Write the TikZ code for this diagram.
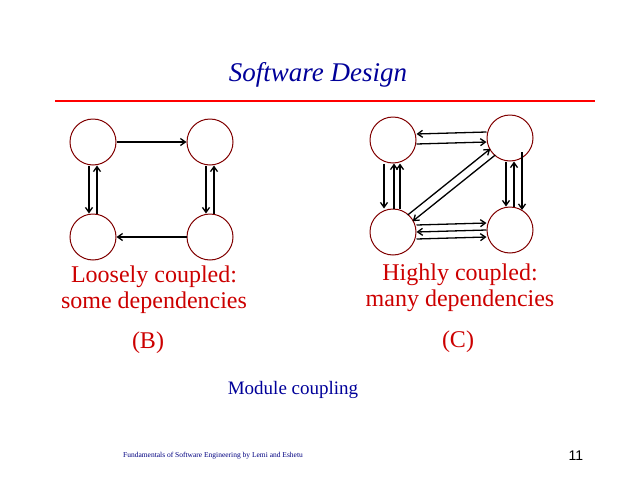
\documentclass[tikz,border=0pt]{standalone}
\usepackage{fontspec}
\usetikzlibrary{arrows.meta}
\setmainfont{Liberation Serif}
\newfontfamily\sansf{Liberation Sans}
\begin{document}
\begin{tikzpicture}[x=1pt,y=-1pt,
  mod/.style={circle,draw=red!50!black,line width=1pt,minimum size=46pt,inner sep=0pt},
  ar/.style={-{Straight Barb[length=5pt,width=7pt]},line width=1.3pt},
  redtxt/.style={text=red!80!black,font=\fontsize{24}{26}\selectfont}]
\useasboundingbox (0,0) rectangle (638,493);
\node[font=\itshape\fontsize{27}{30}\selectfont,text=blue!60!black] (title) at (318,75) {Software Design};
\draw[red,line width=2.5pt] (55,101) coordinate (l1) -- (595,101) coordinate (l2);
% B
\node[mod] (a) at (93,142) {};
\node[mod] (b) at (210,142) {};
\node[mod] (c) at (93,237) {};
\node[mod] (d) at (210,237) {};
\draw[ar] (a) -- (b);
\draw[ar] (d) -- (c);
\draw[ar] ([xshift=-4pt]a.south) -- ([xshift=-4pt]c.north);
\draw[ar] ([xshift=4pt]c.north) -- ([xshift=4pt]a.south);
\draw[ar] ([xshift=-4pt]b.south) -- ([xshift=-4pt]d.north);
\draw[ar] ([xshift=4pt]d.north) -- ([xshift=4pt]b.south);
% C
\node[mod] (e) at (393,140) {};
\node[mod] (f) at (510,138) {};
\node[mod] (g) at (393,232) {};
\node[mod] (h) at (510,230) {};
\draw[ar] ([yshift=6pt]f.west) -- ([yshift=6pt]e.east);
\draw[ar] ([yshift=-4pt]e.east) -- ([yshift=-4pt]f.west);
\draw[ar] ([xshift=-9pt]e.south) -- ([xshift=-9pt]g.north);
\draw[ar] ([xshift=1pt]g.north) -- ([xshift=1pt]e.south);
\draw[ar] ([xshift=7pt]g.north) -- ([xshift=7pt]e.south);
\draw[ar] ([xshift=-4pt]f.south) -- ([xshift=-4pt]h.north);
\draw[ar] ([xshift=4pt]h.north) -- ([xshift=4pt]f.south);
\coordinate (d1s) at (407.7,215); \coordinate (d1e) at (490.3,148.8);
\coordinate (d2s) at (495.3,155); \coordinate (d2e) at (412.7,221.2);
\coordinate (r1s) at (522,152); \coordinate (r1e) at (522,210);
\draw[ar] (d1s) -- (d1e);
\draw[ar] (d2s) -- (d2e);
\draw[ar] (r1s) -- (r1e);
\draw[ar] ([yshift=7pt]g.east) -- ([yshift=7pt]h.west);
\draw[ar] (h.west) -- (g.east);
\draw[ar] ([yshift=-7pt]g.east) -- ([yshift=-7pt]h.west);
% labels
\node[redtxt,align=center] (lb) at (154,290) {Loosely coupled:\\some dependencies};
\node[redtxt] (bb) at (148,343) {(B)};
\node[redtxt,align=center] (lc) at (460,288) {Highly coupled:\\many dependencies};
\node[redtxt] (cc) at (458,342) {(C)};
\node[text=blue!60!black,font=\fontsize{19}{21}\selectfont] (mc) at (293,390) {Module coupling};
\node[font=\fontsize{7.5}{8}\selectfont,text=blue!50!black] (ft) at (213,456) {Fundamentals of Software Engineering by Lemi and Eshetu};
\node[font=\sansf\fontsize{14}{16}\selectfont] (pg) at (576,456) {11};
\end{tikzpicture}
\end{document}
